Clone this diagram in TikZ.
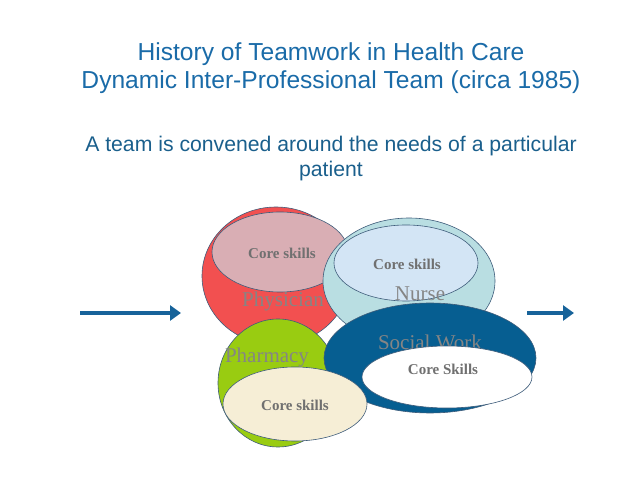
\documentclass[tikz,border=0pt]{standalone}
\usepackage{fontspec}
\setmainfont{Liberation Serif}
\newfontfamily\arialf{Liberation Sans}
\usetikzlibrary{arrows.meta}
\definecolor{titleblue}{HTML}{1A6BA8}
\definecolor{subblue}{HTML}{1A5F8C}
\definecolor{physred}{HTML}{F25050}
\definecolor{physcore}{HTML}{D9AEB4}
\definecolor{nurseblue}{HTML}{B9DEE2}
\definecolor{nursecore}{HTML}{D3E5F5}
\definecolor{pharmgreen}{HTML}{99CC11}
\definecolor{pharmcore}{HTML}{F6EED6}
\definecolor{swblue}{HTML}{065E91}
\definecolor{labelgray}{HTML}{858585}
\definecolor{coregray}{HTML}{707070}
\definecolor{edge}{HTML}{3E5C7A}
\definecolor{arrowblue}{HTML}{17639A}
\tikzset{
  blob/.style={draw=edge, line width=0.6pt},
  corelabel/.style={font=\bfseries\fontsize{15}{17}\selectfont, text=coregray},
  rolelabel/.style={font=\fontsize{21}{23}\selectfont, text=labelgray},
  flowarrow/.style={draw=arrowblue, line width=3.8pt, -{Triangle[length=11pt,width=15pt]}}
}
\begin{document}
\begin{tikzpicture}[x=1pt,y=-1pt]
\useasboundingbox (0,0) rectangle (638,478);
\node[font=\arialf\fontsize{24.6}{28}\selectfont, text=titleblue, align=center] (title) at (331,68)
  {History of Teamwork in Health Care\\Dynamic Inter-Professional Team (circa 1985)};
\node[font=\arialf\fontsize{21.2}{25}\selectfont, text=subblue, align=center] (sub) at (331,159)
  {A team is convened around the needs of a particular\\patient};
% physician
\fill[physred, blob] (276,276) ellipse [x radius=74, y radius=69];
\fill[physcore, blob] (280,252) ellipse [x radius=68, y radius=40];
\node[corelabel] (pcs) at (282,253) {Core skills};
\node[rolelabel] (phys) at (283,301) {Physician};
% nurse
\fill[nurseblue, blob] (409,281) ellipse [x radius=86, y radius=63];
\fill[nursecore, blob] (406,263) ellipse [x radius=72, y radius=38];
\node[corelabel] (ncs) at (407,264) {Core skills};
\node[rolelabel] (nurse) at (420,294) {Nurse};
% pharmacy
\fill[pharmgreen, blob] (278,383) ellipse [x radius=60, y radius=64];
% social work
\fill[swblue, blob] (430,358) ellipse [x radius=106, y radius=55];
\node[rolelabel] (sw) at (430,342) {Social Work};
\fill[white, blob] (447,377) ellipse [x radius=85, y radius=31];
\node[corelabel] (swcs) at (443,369) {Core Skills};
\node[rolelabel] (pharm) at (267,357) {Pharmacy};
\fill[pharmcore, blob] (295,404) ellipse [x radius=72, y radius=37];
\node[corelabel] (phcs) at (295,405) {Core skills};
% arrows
\coordinate (a1s) at (80,313);
\coordinate (a1e) at (181,313);
\coordinate (a2s) at (527,313);
\coordinate (a2e) at (574,313);
\draw[flowarrow] (a1s) -- (a1e);
\draw[flowarrow] (a2s) -- (a2e);
\end{tikzpicture}
\end{document}
